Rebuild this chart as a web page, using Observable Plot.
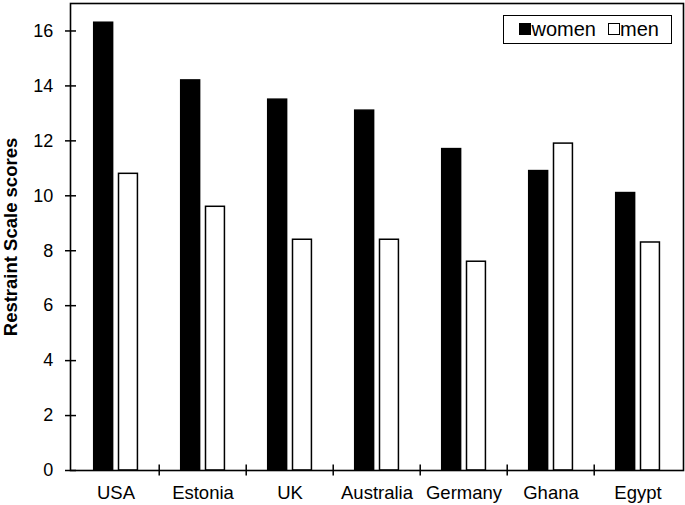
<!DOCTYPE html>
<html>
<head>
<meta charset="utf-8">
<script src="https://cdn.jsdelivr.net/npm/d3@7"></script>
<script src="https://cdn.jsdelivr.net/npm/@observablehq/plot@0.6"></script>
<style>
  body { margin: 0; background: #fff; }
  #wrap { position: relative; width: 685px; height: 505px; font-family: "Liberation Sans", Arial, sans-serif; }
  #legend { position: absolute; left: 503px; top: 15px; width: 169px; height: 28.5px; box-sizing: border-box; border: 1.5px solid #000; background: #fff; }
  #legend .sw { position: absolute; width: 12px; height: 12px; box-sizing: border-box; border: 1.5px solid #000; }
  #legend .lab { position: absolute; font-size: 20px; line-height: 20px; color: #000; white-space: nowrap; }
</style>
</head>
<body>
<div id="wrap"></div>
<script>
const countries = ["USA", "Estonia", "UK", "Australia", "Germany", "Ghana", "Egypt"];
const women = [16.3, 14.2, 13.5, 13.1, 11.7, 10.9, 10.1];
const men = [10.8, 9.6, 8.4, 8.4, 7.6, 11.9, 8.3];
const yTicks = [0, 2, 4, 6, 8, 10, 12, 14, 16];
const seriesNames = ["women", "men"];
const yLabel = "Restraint Scale scores";

const W = 685, H = 505, mL = 70, mR = 2, mT = 3, mB = 35;
const step = (W - mL - mR) / countries.length;

const womenData = countries.map((c, i) => ({country: c, value: women[i]}));
const menData = countries.map((c, i) => ({country: c, value: men[i]}));

const chart = Plot.plot({
  width: W,
  height: H,
  marginLeft: mL,
  marginRight: mR,
  marginTop: mT,
  marginBottom: mB,
  style: {fontFamily: "'Liberation Sans', Arial, sans-serif", color: "#000", background: "#fff"},
  x: {domain: countries, padding: 0, label: null},
  y: {domain: [0, 17], label: null},
  marks: [
    Plot.barY(womenData, {x: "country", y: "value", fill: "#000", stroke: "#000", strokeWidth: 1.5,
      insetLeft: 21.7, insetRight: step - 41.2}),
    Plot.barY(menData, {x: "country", y: "value", fill: "#fff", stroke: "#000", strokeWidth: 1.5,
      insetLeft: 46.5, insetRight: step - 66}),
    Plot.frame({stroke: "#000", strokeWidth: 1.6}),
    // y tick labels
    Plot.axisY(yTicks, {tickSize: 0, tickPadding: 17.3, fontSize: 18, label: null}),
    // y ticks crossing the axis
    Plot.axisY(yTicks, {tickSize: 11, dx: 6, text: null, label: null, stroke: "#000", strokeWidth: 1.5}),
    // x category labels
    Plot.axisX({tickSize: 0, tickPadding: 15, fontSize: 18.5, label: null}),
    // x ticks between categories
    Plot.axisX(countries.slice(1), {tickSize: 11, dy: -5.5, dx: -step / 2, text: null, label: null, stroke: "#000", strokeWidth: 1.5}),
    // y axis title
    Plot.text([yLabel], {text: d => d, frameAnchor: "left", rotate: -90, dx: -54, lineAnchor: "bottom",
      textAnchor: "middle", fontSize: 18.5, fontWeight: "bold", fill: "#000"})
  ]
});

const wrap = document.getElementById("wrap");
wrap.appendChild(chart);

const legend = document.createElement("div");
legend.id = "legend";
const fills = ["#000", "#fff"];
const swLeft = [14.5, 103.5];
const labLeft = [27.5, 116];
seriesNames.forEach((name, i) => {
  const sw = document.createElement("div");
  sw.className = "sw";
  sw.style.left = swLeft[i] + "px";
  sw.style.top = "6.8px";
  sw.style.background = fills[i];
  legend.appendChild(sw);
  const lab = document.createElement("div");
  lab.className = "lab";
  lab.style.left = labLeft[i] + "px";
  lab.style.top = "2.6px";
  lab.textContent = name;
  legend.appendChild(lab);
});
wrap.appendChild(legend);
</script>
</body>
</html>
